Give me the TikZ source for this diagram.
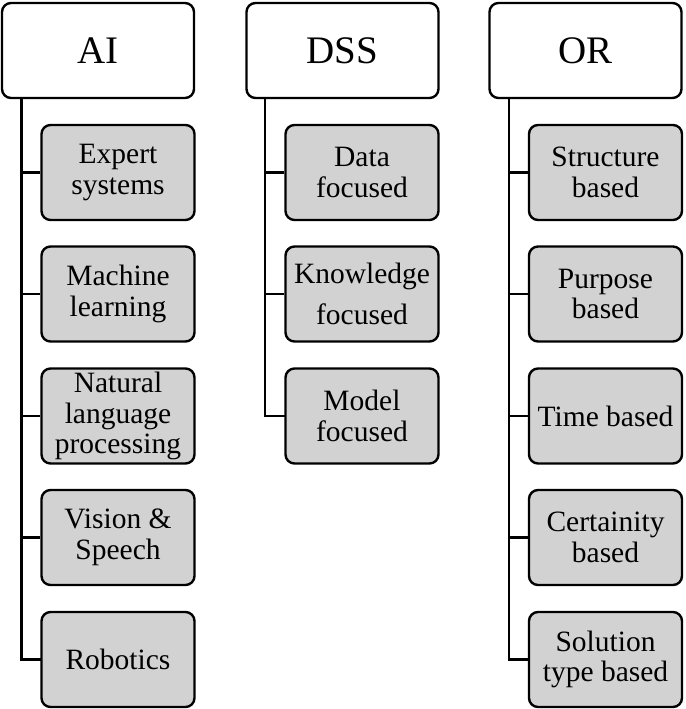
\documentclass[tikz,border=0pt]{standalone}
\usepackage{fontspec}
\setmainfont{Liberation Serif}
\begin{document}
\begin{tikzpicture}[x=1pt,y=-1pt,
  hdr/.style={draw=black, line width=2.4pt, rounded corners=9pt, fill=white,
    minimum width=192pt, minimum height=95pt, inner sep=0pt,
    font=\fontsize{39}{42}\selectfont},
  sub/.style={draw=black, line width=2.4pt, rounded corners=9pt, fill=boxgray,
    minimum width=153pt, minimum height=95pt, inner sep=0pt, align=center,
    font=\fontsize{29.5}{30.5}\selectfont},
  conn/.style={line width=2.4pt}]
\definecolor{boxgray}{HTML}{D2D2D2}
\useasboundingbox (0,0) rectangle (685,709);
% headers
\node[hdr] (AI) at (98,50.5) {AI};
\node[hdr] (DSS) at (342.5,50.5) {DSS};
\node[hdr] (OR) at (585.5,50.5) {OR};
% line coordinates
\coordinate (ail) at (21.5,0);
\coordinate (dssl) at (265,0);
\coordinate (orl) at (509,0);
% connectors
\draw[conn] (AI.south -| ail) |- (118,659.5) coordinate (ae);
\draw[conn] (DSS.south -| dssl) |- (362,416) coordinate (de);
\draw[conn] (OR.south -| orl) |- (605.5,659.5) coordinate (oe);
% AI children
\node[sub] (a1) at (118,172.5) {Expert\\systems};
\node[sub] (a2) at (118,294) {Machine\\learning};
\node[sub] (a3) at (118,416) {Natural\\language\\processing};
\node[sub] (a4) at (118,537.5) {Vision \&\\Speech};
\node[sub] (a5) at (ae) {Robotics};
% DSS children
\node[sub] (d1) at (362,172.5) {Data\\focused};
\node[sub] (d2) at (362,294) {Knowledge\\[10pt]focused};
\node[sub] (d3) at (de) {Model\\focused};
% OR children
\node[sub] (o1) at (605.5,172.5) {Structure\\based};
\node[sub] (o2) at (605.5,294) {Purpose\\based};
\node[sub] (o3) at (605.5,416) {Time based};
\node[sub] (o4) at (605.5,537.5) {Certainity\\based};
\node[sub] (o5) at (oe) {Solution\\type based};
\foreach \n in {a1,a2,a3,a4} \draw[conn] (\n.west) -- (\n.west -| ail);
\foreach \n in {d1,d2} \draw[conn] (\n.west) -- (\n.west -| dssl);
\foreach \n in {o1,o2,o3,o4} \draw[conn] (\n.west) -- (\n.west -| orl);
\end{tikzpicture}
\end{document}
